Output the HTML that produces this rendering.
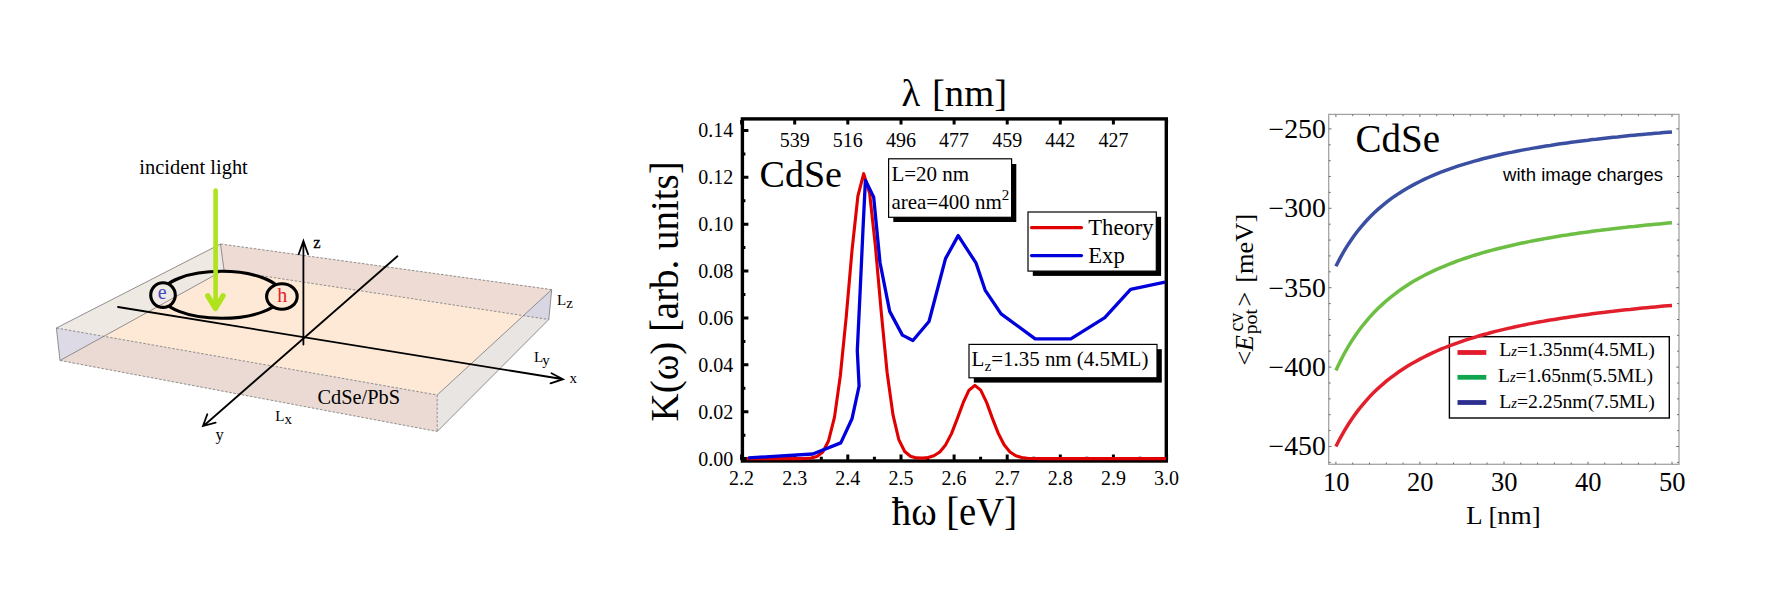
<!DOCTYPE html>
<html><head><meta charset="utf-8"><title>CdSe nanoplatelet figure</title>
<style>
html,body{margin:0;padding:0;background:#fff}
svg{display:block}
text{font-family:"Liberation Serif","DejaVu Serif",serif;fill:#000}
.sans{font-family:"Liberation Sans","DejaVu Sans",sans-serif}
</style></head><body>
<svg width="1765" height="609" viewBox="0 0 1765 609">
<rect width="1765" height="609" fill="#fff"/>

<!-- ================= PANEL 1 : slab schematic ================= -->
<g id="p1">
 <defs>
  <mask id="mk"><rect x="0" y="0" width="640" height="609" fill="#fff"/><ellipse cx="163" cy="295.1" rx="12.3" ry="12.3" fill="#000"/><ellipse cx="281.9" cy="296.5" rx="15.3" ry="12.8" fill="#000"/></mask>
 </defs>
 <!-- faces -->
 <polygon points="220.5,244 551.7,289.6 523.4,315.6 224,270" fill="#eedbd4"/>
 <polygon points="56.4,328 220.5,244 224,270 103.6,336.5" fill="#efe9e4"/>
 <polygon points="103.6,336.5 224,270 523.4,315.6 437.2,395" fill="#fde9d6"/>
 <polygon points="56.4,328 103.6,336.5 60,360.5" fill="#dddae6"/>
 <polygon points="103.6,336.5 437.2,395 437.2,431.5 60,360.5" fill="#ebd9d3"/>
 <polygon points="437.2,395 523.4,315.6 548.8,319.5 437.2,431.5" fill="#e9e5e2"/>
 <polygon points="523.4,315.6 551.7,289.6 548.8,319.5" fill="#d9d6e3"/>
 <!-- edges -->
 <g fill="none" stroke="#7d7d7d" stroke-width="0.85">
  <path d="M56.4,328L220.5,244M56.4,328L60,360.5M60,360.5L224,270M220.5,244L224,270M437.2,395L551.7,289.6L548.8,319.5L437.2,431.5"/>
  <path d="M220.5,244L551.7,289.6M224,270L548.8,319.5M56.4,328L437.2,395V431.5M60,360.5L437.2,431.5" stroke-dasharray="2.6 1.6"/>
 </g>
 <!-- axes -->
 <g fill="none" stroke="#000" stroke-width="1.8" stroke-linecap="round">
  <path d="M118,307L562,379M551.5,373.2L563,379.2L550.5,383.3"/>
  <path d="M397.4,256.3L204,425.5M207.3,414.3L203,426L215.6,422.6"/>
  <path d="M303.4,344.5V242M298.7,254.2L303.4,241L308.1,254.2"/>
 </g>
 <!-- exciton -->
 <ellipse cx="221.5" cy="294.8" rx="60" ry="23.5" fill="none" stroke="#000" stroke-width="3.1" mask="url(#mk)"/>
 <ellipse cx="163" cy="295.1" rx="12.3" ry="12.3" fill="none" stroke="#000" stroke-width="3.1"/>
 <ellipse cx="281.9" cy="296.5" rx="15.3" ry="12.8" fill="none" stroke="#000" stroke-width="3.1"/>
 <text x="162.3" y="299.4" font-size="20" text-anchor="middle" style="fill:#4646bf">e</text>
 <text x="282.2" y="302" font-size="20" text-anchor="middle" style="fill:#e0242a">h</text>
 <!-- incident light arrow -->
 <g fill="none" stroke="#afe31d" stroke-width="4.6">
  <path d="M215.6,190.6V306" stroke-linecap="round"/>
  <path d="M207.8,295.8L215.4,308.4L223,295.8" stroke-width="5.4" stroke-linejoin="round" stroke-linecap="round"/>
 </g>
 <text x="139.3" y="173.5" font-size="21" textLength="108.5" lengthAdjust="spacingAndGlyphs">incident light</text>
 <text x="317.5" y="403.5" font-size="20.4" textLength="82.5" lengthAdjust="spacingAndGlyphs">CdSe/PbS</text>
 <text x="313.3" y="247.6" font-size="16.5" stroke="#000" stroke-width="0.3">z</text>
 <text x="569.5" y="383" font-size="15">x</text>
 <text x="215.5" y="440" font-size="16.5">y</text>
 <text x="557" y="305" font-size="15">L<tspan dy="3">z</tspan></text>
 <text x="534" y="361.5" font-size="15">L<tspan dy="3">y</tspan></text>
 <text x="275.3" y="421.4" font-size="15">L<tspan dy="3">x</tspan></text>
</g>

<!-- ================= PANEL 2 : absorption spectrum ================= -->
<g id="p2">
 <rect x="742.4" y="118.9" width="423.9" height="342.1" fill="none" stroke="#000" stroke-width="3.4"/>
 <path d="M741.6,460V454.4M741.6,120V124.6M768.2,460V456.7M794.7,460V454.4M794.7,120V124.6M821.3,460V456.7M847.8,460V454.4M847.8,120V124.6M874.4,460V456.7M901,460V454.4M901,120V124.6M927.5,460V456.7M954.1,460V454.4M954.1,120V124.6M980.6,460V456.7M1007.2,460V454.4M1007.2,120V124.6M1033.8,460V456.7M1060.3,460V454.4M1060.3,120V124.6M1086.9,460V456.7M1113.4,460V454.4M1113.4,120V124.6M1140,460V456.7M1166.6,460V454.4M1166.6,120V124.6M743,458.6H748.4M743,435.2H745.4M743,411.7H748.4M743,388.3H745.4M743,364.8H748.4M743,341.4H745.4M743,318H748.4M743,294.5H745.4M743,271.1H748.4M743,247.6H745.4M743,224.2H748.4M743,200.8H745.4M743,177.3H748.4M743,153.9H745.4M743,130.4H748.4" stroke="#000" stroke-width="3" fill="none"/>
 <polyline points="746.7,458.6 752.6,458.6 758.4,458.6 764.3,458.6 770.1,458.6 776,458.6 781.8,458.6 787.7,458.6 793.5,458.6 799.4,458.6 805.2,458.5 811.1,458 816.9,456.5 822.8,452 828.6,440.7 834.5,417.1 840.3,376 846.2,317.1 852,250.6 857.9,196 863.7,173.7 869.6,193.2 875.4,246.2 881.3,312.7 887.1,372.5 893,414.9 898.8,439.6 904.7,451.5 910.5,456.3 916.4,457.9 922.2,458.1 928.1,457.6 933.9,455.8 939.8,452 945.6,444.9 951.5,433.6 957.3,418.6 963.2,402.7 969,390.2 974.9,385.4 980.7,390.1 986.6,402.4 992.4,418.4 998.3,433.4 1004.1,444.8 1010,452 1015.8,455.8 1021.7,457.6 1027.5,458.3 1033.4,458.5 1039.2,458.6 1045.1,458.6 1050.9,458.6 1056.8,458.6 1062.6,458.6 1068.5,458.6 1074.3,458.6 1080.2,458.6 1086,458.6 1091.9,458.6 1097.7,458.6 1103.6,458.6 1109.4,458.6 1115.3,458.6 1121.1,458.6 1127,458.6 1132.8,458.6 1138.7,458.6 1144.5,458.6 1150.4,458.6 1156.2,458.6 1162.1,458.6 1166,458.6" fill="none" stroke="#e00000" stroke-width="3.1" stroke-linejoin="round"/>
 <polyline points="748.2,457.9 812.8,454 840.8,442.9 852,418.8 859.1,386 857.3,350.6 860.2,290 863,229 865.4,180.3 873.7,197.3 880,262.5 889.7,311.4 902.4,335.1 912.9,340.5 929,321.5 945.5,258.6 958.2,235.6 976.1,263.2 985.1,290.1 1001.1,313.8 1035.2,338.9 1070.8,338.9 1104.8,317.7 1130.6,289.4 1165,282.1" fill="none" stroke="#0000dc" stroke-width="3.3" stroke-linejoin="round"/>
 <g font-size="20" text-anchor="middle"><text x="741.6" y="485.2">2.2</text><text x="794.7" y="485.2">2.3</text><text x="847.8" y="485.2">2.4</text><text x="901" y="485.2">2.5</text><text x="954.1" y="485.2">2.6</text><text x="1007.2" y="485.2">2.7</text><text x="1060.3" y="485.2">2.8</text><text x="1113.4" y="485.2">2.9</text><text x="1166.6" y="485.2">3.0</text></g>
 <g font-size="20" text-anchor="end"><text x="733.3" y="465.5">0.00</text><text x="733.3" y="418.6">0.02</text><text x="733.3" y="371.7">0.04</text><text x="733.3" y="324.9">0.06</text><text x="733.3" y="278">0.08</text><text x="733.3" y="231.1">0.10</text><text x="733.3" y="184.2">0.12</text><text x="733.3" y="137.3">0.14</text></g>
 <g font-size="20" text-anchor="middle"><text x="794.7" y="146.8">539</text><text x="847.8" y="146.8">516</text><text x="901" y="146.8">496</text><text x="954.1" y="146.8">477</text><text x="1007.2" y="146.8">459</text><text x="1060.3" y="146.8">442</text><text x="1113.4" y="146.8">427</text></g>
 <text x="901.6" y="106" font-size="38.6" textLength="105.5" lengthAdjust="spacingAndGlyphs">λ<tspan dx="2"> [nm]</tspan></text>
 <text x="891.8" y="525.3" font-size="41" textLength="125.3" lengthAdjust="spacingAndGlyphs">ħω [eV]</text>
 <text transform="translate(678.3,291.4) rotate(-90)" font-size="40" text-anchor="middle" textLength="260" lengthAdjust="spacingAndGlyphs">K(ω) [arb. units]</text>
 <text x="759.5" y="187" font-size="38" textLength="82.5" lengthAdjust="spacingAndGlyphs">CdSe</text>
 <!-- box 1 -->
 <rect x="893.3" y="164" width="123" height="58" fill="#000"/>
 <rect x="888.6" y="158.8" width="123" height="58.5" fill="#fff" stroke="#000" stroke-width="1.2"/>
 <text x="891.4" y="180.6" font-size="21">L=20 nm</text>
 <text x="891.4" y="208.5" font-size="21">area=400 nm<tspan font-size="15" dy="-9">2</tspan></text>
 <!-- legend -->
 <rect x="1032.8" y="216.8" width="128.3" height="59.1" fill="#000"/>
 <rect x="1028" y="212" width="128.3" height="59.1" fill="#fff" stroke="#000" stroke-width="1.2"/>
 <path d="M1031.5,227.6H1081.5" stroke="#e00000" stroke-width="3.2" stroke-linecap="round"/>
 <path d="M1031.5,255.6H1081.5" stroke="#0000dc" stroke-width="3.2" stroke-linecap="round"/>
 <text x="1088.3" y="235.4" font-size="22.6">Theory</text>
 <text x="1088.3" y="262.6" font-size="22.6">Exp</text>
 <!-- box 2 -->
 <rect x="973.8" y="349.2" width="188" height="33.4" fill="#000"/>
 <rect x="969" y="344.4" width="188" height="33.4" fill="#fff" stroke="#000" stroke-width="1.2"/>
 <text x="971.6" y="365.7" font-size="20.5" textLength="176.8" lengthAdjust="spacingAndGlyphs">L<tspan font-size="15" dy="4.8">z</tspan><tspan dy="-4.8">=1.35 nm (4.5ML)</tspan></text>
</g>

<!-- ================= PANEL 3 : potential energy ================= -->
<g id="p3">
 <rect x="1328.7" y="114.4" width="350.3" height="349.9" fill="none" stroke="#a4a4a4" stroke-width="1.3"/>
 <path d="M1335.9,464.3v-2.6M1335.9,114.4v2.6M1352.7,464.3v-1.8M1352.7,114.4v1.8M1369.5,464.3v-1.8M1369.5,114.4v1.8M1386.3,464.3v-1.8M1386.3,114.4v1.8M1403.1,464.3v-1.8M1403.1,114.4v1.8M1419.9,464.3v-2.6M1419.9,114.4v2.6M1436.7,464.3v-1.8M1436.7,114.4v1.8M1453.5,464.3v-1.8M1453.5,114.4v1.8M1470.3,464.3v-1.8M1470.3,114.4v1.8M1487.1,464.3v-1.8M1487.1,114.4v1.8M1504,464.3v-2.6M1504,114.4v2.6M1520.8,464.3v-1.8M1520.8,114.4v1.8M1537.6,464.3v-1.8M1537.6,114.4v1.8M1554.4,464.3v-1.8M1554.4,114.4v1.8M1571.2,464.3v-1.8M1571.2,114.4v1.8M1588,464.3v-2.6M1588,114.4v2.6M1604.8,464.3v-1.8M1604.8,114.4v1.8M1621.6,464.3v-1.8M1621.6,114.4v1.8M1638.4,464.3v-1.8M1638.4,114.4v1.8M1655.2,464.3v-1.8M1655.2,114.4v1.8M1672,464.3v-2.6M1672,114.4v2.6M1328.7,462.4h2M1679,462.4h-2M1328.7,446.5h2.8M1679,446.5h-2.8M1328.7,430.6h2M1679,430.6h-2M1328.7,414.7h2M1679,414.7h-2M1328.7,398.9h2M1679,398.9h-2M1328.7,383h2M1679,383h-2M1328.7,367.1h2.8M1679,367.1h-2.8M1328.7,351.2h2M1679,351.2h-2M1328.7,335.3h2M1679,335.3h-2M1328.7,319.5h2M1679,319.5h-2M1328.7,303.6h2M1679,303.6h-2M1328.7,287.7h2.8M1679,287.7h-2.8M1328.7,271.8h2M1679,271.8h-2M1328.7,255.9h2M1679,255.9h-2M1328.7,240.1h2M1679,240.1h-2M1328.7,224.2h2M1679,224.2h-2M1328.7,208.3h2.8M1679,208.3h-2.8M1328.7,192.4h2M1679,192.4h-2M1328.7,176.5h2M1679,176.5h-2M1328.7,160.7h2M1679,160.7h-2M1328.7,144.8h2M1679,144.8h-2M1328.7,128.9h2.8M1679,128.9h-2.8" stroke="#6e6e6e" stroke-width="1" fill="none"/>
 <!-- legend -->
 <rect x="1449.4" y="336.7" width="219.9" height="81.3" fill="#fff" stroke="#000" stroke-width="1.4"/>
 <path d="M1457.5,352.5H1486.3" stroke="#e31b2e" stroke-width="4.8"/>
 <path d="M1457.5,377.3H1486.3" stroke="#10a650" stroke-width="4.8"/>
 <path d="M1457.5,402.5H1486.3" stroke="#2b2e8e" stroke-width="4.8"/>
 <g font-size="19">
  <text x="1499.3" y="356.2" textLength="155.6" lengthAdjust="spacingAndGlyphs">L<tspan font-size="14" font-style="italic">z</tspan>=1.35nm(4.5ML)</text>
  <text x="1498" y="382.2" textLength="155" lengthAdjust="spacingAndGlyphs">L<tspan font-size="14" font-style="italic">z</tspan>=1.65nm(5.5ML)</text>
  <text x="1499.3" y="408" textLength="155.6" lengthAdjust="spacingAndGlyphs">L<tspan font-size="14" font-style="italic">z</tspan>=2.25nm(7.5ML)</text>
 </g>
 <polyline points="1335.9,266.3 1340.1,258.1 1344.3,250.7 1348.5,243.9 1352.7,237.7 1356.9,232 1361.1,226.8 1365.3,222 1369.5,217.5 1373.7,213.3 1377.9,209.4 1382.1,205.8 1386.3,202.4 1390.5,199.2 1394.7,196.2 1398.9,193.4 1403.1,190.8 1407.3,188.2 1411.5,185.9 1415.7,183.6 1419.9,181.5 1424.1,179.4 1428.3,177.5 1432.5,175.7 1436.7,173.9 1440.9,172.2 1445.1,170.6 1449.3,169.1 1453.5,167.6 1457.7,166.2 1461.9,164.9 1466.1,163.6 1470.3,162.3 1474.5,161.1 1478.7,160 1482.9,158.8 1487.1,157.8 1491.3,156.7 1495.5,155.7 1499.7,154.8 1504,153.8 1508.2,152.9 1512.4,152.1 1516.6,151.2 1520.8,150.4 1525,149.6 1529.2,148.9 1533.4,148.1 1537.6,147.4 1541.8,146.7 1546,146 1550.2,145.4 1554.4,144.7 1558.6,144.1 1562.8,143.5 1567,142.9 1571.2,142.3 1575.4,141.8 1579.6,141.2 1583.8,140.7 1588,140.2 1592.2,139.6 1596.4,139.2 1600.6,138.7 1604.8,138.2 1609,137.7 1613.2,137.3 1617.4,136.9 1621.6,136.4 1625.8,136 1630,135.6 1634.2,135.2 1638.4,134.8 1642.6,134.4 1646.8,134.1 1651,133.7 1655.2,133.3 1659.4,133 1663.6,132.6 1667.8,132.3 1672,132" fill="none" stroke="#3a4fa2" stroke-width="3.5"/>
 <polyline points="1335.9,370.5 1340.1,361.6 1344.3,353.5 1348.5,346.2 1352.7,339.4 1356.9,333.3 1361.1,327.5 1365.3,322.3 1369.5,317.4 1373.7,312.8 1377.9,308.5 1382.1,304.6 1386.3,300.8 1390.5,297.3 1394.7,294.1 1398.9,290.9 1403.1,288 1407.3,285.3 1411.5,282.6 1415.7,280.1 1419.9,277.8 1424.1,275.5 1428.3,273.4 1432.5,271.4 1436.7,269.4 1440.9,267.6 1445.1,265.8 1449.3,264.1 1453.5,262.5 1457.7,260.9 1461.9,259.4 1466.1,258 1470.3,256.6 1474.5,255.2 1478.7,254 1482.9,252.7 1487.1,251.5 1491.3,250.4 1495.5,249.3 1499.7,248.2 1504,247.2 1508.2,246.2 1512.4,245.2 1516.6,244.3 1520.8,243.3 1525,242.5 1529.2,241.6 1533.4,240.8 1537.6,240 1541.8,239.2 1546,238.4 1550.2,237.7 1554.4,237 1558.6,236.3 1562.8,235.6 1567,235 1571.2,234.3 1575.4,233.7 1579.6,233.1 1583.8,232.5 1588,231.9 1592.2,231.3 1596.4,230.8 1600.6,230.3 1604.8,229.7 1609,229.2 1613.2,228.7 1617.4,228.2 1621.6,227.7 1625.8,227.3 1630,226.8 1634.2,226.4 1638.4,225.9 1642.6,225.5 1646.8,225.1 1651,224.7 1655.2,224.3 1659.4,223.9 1663.6,223.5 1667.8,223.1 1672,222.8" fill="none" stroke="#6cbf43" stroke-width="3.5"/>
 <polyline points="1335.9,446.5 1340.1,438.3 1344.3,430.8 1348.5,424 1352.7,417.7 1356.9,411.9 1361.1,406.5 1365.3,401.6 1369.5,396.9 1373.7,392.6 1377.9,388.6 1382.1,384.8 1386.3,381.2 1390.5,377.9 1394.7,374.8 1398.9,371.8 1403.1,369 1407.3,366.3 1411.5,363.8 1415.7,361.4 1419.9,359.1 1424.1,357 1428.3,354.9 1432.5,352.9 1436.7,351 1440.9,349.2 1445.1,347.5 1449.3,345.9 1453.5,344.3 1457.7,342.8 1461.9,341.3 1466.1,339.9 1470.3,338.6 1474.5,337.3 1478.7,336 1482.9,334.8 1487.1,333.7 1491.3,332.5 1495.5,331.4 1499.7,330.4 1504,329.4 1508.2,328.4 1512.4,327.5 1516.6,326.5 1520.8,325.6 1525,324.8 1529.2,323.9 1533.4,323.1 1537.6,322.3 1541.8,321.6 1546,320.8 1550.2,320.1 1554.4,319.4 1558.6,318.7 1562.8,318.1 1567,317.4 1571.2,316.8 1575.4,316.2 1579.6,315.6 1583.8,315 1588,314.4 1592.2,313.8 1596.4,313.3 1600.6,312.8 1604.8,312.3 1609,311.7 1613.2,311.3 1617.4,310.8 1621.6,310.3 1625.8,309.8 1630,309.4 1634.2,308.9 1638.4,308.5 1642.6,308.1 1646.8,307.7 1651,307.3 1655.2,306.9 1659.4,306.5 1663.6,306.1 1667.8,305.7 1672,305.4" fill="none" stroke="#e2202d" stroke-width="3.5"/>
 <g font-size="26.5" text-anchor="middle"><text x="1336.2" y="490.7">10</text><text x="1420.2" y="490.7">20</text><text x="1504.2" y="490.7">30</text><text x="1588.3" y="490.7">40</text><text x="1672.3" y="490.7">50</text></g>
 <g font-size="26.5"><text x="1268.5" y="137.7" textLength="57.3" lengthAdjust="spacingAndGlyphs">−250</text><text x="1268.5" y="217.1" textLength="57.3" lengthAdjust="spacingAndGlyphs">−300</text><text x="1268.5" y="296.5" textLength="57.3" lengthAdjust="spacingAndGlyphs">−350</text><text x="1268.5" y="375.9" textLength="57.3" lengthAdjust="spacingAndGlyphs">−400</text><text x="1268.5" y="455.3" textLength="57.3" lengthAdjust="spacingAndGlyphs">−450</text></g>
 <text x="1466.3" y="524" font-size="26" textLength="74.3" lengthAdjust="spacingAndGlyphs">L [nm]</text>
 <text x="1355.5" y="152.4" font-size="39" textLength="84.6" lengthAdjust="spacingAndGlyphs">CdSe</text>
 <text class="sans" x="1503" y="180.9" font-size="18.5" textLength="160" lengthAdjust="spacingAndGlyphs">with image charges</text>
 <g transform="translate(1253,365) rotate(-90)" font-size="26">
  <text x="-0.5" y="0">&lt;</text>
  <text x="14" y="0" font-style="italic">E</text>
  <text x="30.7" y="4.4" font-size="19.8">pot</text>
  <text x="33.4" y="-10" font-size="20">cv</text>
  <text x="58.5" y="0">&gt;</text>
  <text x="82.3" y="0" textLength="68.9" lengthAdjust="spacingAndGlyphs">[meV]</text>
 </g>
</g>
</svg>
</body></html>
